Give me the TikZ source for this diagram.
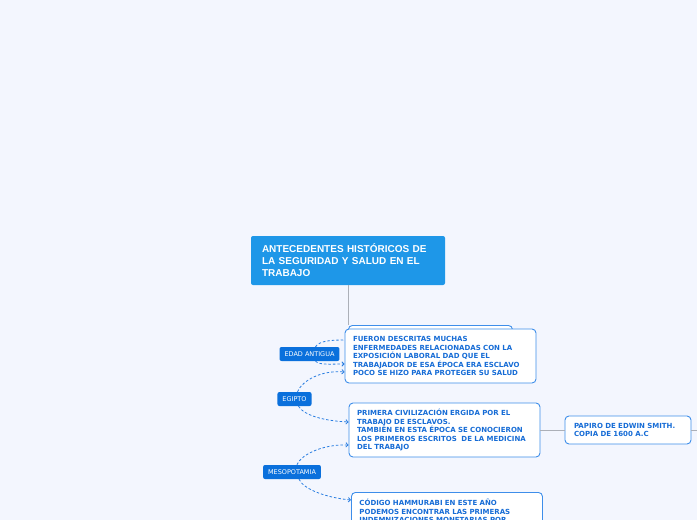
\documentclass[tikz,border=0pt]{standalone}
\usepackage{fontspec}
\usetikzlibrary{arrows.meta,calc}
\newfontfamily\titlefont{Liberation Sans}
\newfontfamily\dvfont{DejaVu Sans}
\definecolor{bgc}{RGB}{243,246,254}
\definecolor{titlec}{RGB}{30,151,232}
\definecolor{labelc}{RGB}{10,112,220}
\definecolor{boxborder}{RGB}{62,142,234}
\definecolor{boxtext}{RGB}{22,108,214}
\definecolor{dashc}{RGB}{40,125,225}
\definecolor{grayline}{RGB}{172,176,184}
\tikzset{
  titlebox/.style={fill=titlec, rounded corners=2pt, text=white,
    font=\titlefont\bfseries\fontsize{10}{12}\selectfont, text width=172pt,
    align=left, inner xsep=11pt, inner ysep=0pt, minimum height=49pt},
  childbox/.style={draw=boxborder, line width=0.9pt, fill=white, rounded corners=4pt,
    text=boxtext, font=\dvfont\bfseries\fontsize{7}{8.5}\selectfont, align=left,
    text width=175pt, inner xsep=8pt, inner ysep=0pt, minimum height=54pt},
  backbox/.style={draw=boxborder, line width=0.9pt, fill=white, rounded corners=4pt,
    minimum width=164pt, minimum height=40pt, inner sep=0pt},
  labelbox/.style={fill=labelc, rounded corners=2pt, text=white,
    font=\dvfont\fontsize{6.5}{7}\selectfont, inner xsep=5pt, inner ysep=0pt,
    minimum height=14pt},
  gline/.style={draw=grayline, line width=1pt},
  rel/.style={draw=dashc, line width=0.8pt, dash pattern=on 2.5pt off 2pt},
  relarrow/.style={rel, -{Straight Barb[length=2.2pt,width=4.5pt]}}
}
\begin{document}
\begin{tikzpicture}[x=1pt,y=-1pt]
\clip (0,0) rectangle (697,520);
\fill[bgc] (0,0) rectangle (697,520);

% nodes
\node[titlebox] (title) at (348,260.5) {ANTECEDENTES HISTÓRICOS DE\\LA SEGURIDAD Y SALUD EN EL\\TRABAJO};
\node[backbox, anchor=north west] (back) at (348,325) {};
\node[childbox] (fueron) at (440.5,356) {FUERON DESCRITAS MUCHAS\\ENFERMEDADES RELACIONADAS CON LA\\EXPOSICIÓN LABORAL DAD QUE EL\\TRABAJADOR DE ESA ÉPOCA ERA ESCLAVO\\POCO SE HIZO PARA PROTEGER SU SALUD};
\node[childbox] (primera) at (444.5,430) {PRIMERA CIVILIZACIÓN ERGIDA POR EL\\TRABAJO DE ESCLAVOS.\\TAMBIÉN EN ESTA ÉPOCA SE CONOCIERON\\LOS PRIMEROS ESCRITOS \ DE LA MEDICINA\\DEL TRABAJO};
\node[childbox, anchor=north west, minimum height=0pt, inner ysep=6.6pt] (codigo) at (351,492) {CÓDIGO HAMMURABI EN ESTE AÑO\\PODEMOS ENCONTRAR LAS PRIMERAS\\INDEMNIZACIONES MONETARIAS POR\\\strut};
\node[childbox, text width=108pt, inner xsep=9pt, minimum height=28pt] (papiro) at (628,430) {PAPIRO DE EDWIN SMITH.\\COPIA DE 1600 A.C};
\coordinate (offright) at (705,430);

\node[labelbox] (edad) at (309.5,354) {EDAD ANTIGUA};
\node[labelbox] (egipto) at (294.5,399) {EGIPTO};
\node[labelbox] (meso) at (292,472) {MESOPOTAMIA};

% gray tree lines
\draw[gline] (title.south) -- (title.south |- back.north);
\draw[gline] (primera.east) -- (papiro.west);
\draw[gline] (papiro.east) -- (offright);

% dashed relationships
\draw[rel] ($(edad.north)+(6,0)$) .. controls ($(edad.north)+(10,-6)$) and ($(fueron.west)+(-14,-16)$) .. ($(fueron.west)+(0,-16)$);
\draw[relarrow] ($(edad.south)+(6,0)$) .. controls ($(edad.south)+(10,4)$) and ($(fueron.west)+(-14,8)$) .. ($(fueron.west)+(0,8)$);
\draw[relarrow] ($(egipto.north)+(3,0)$) .. controls ($(egipto.north)+(8,-12)$) and ($(fueron.west)+(-22,14)$) .. ($(fueron.west)+(0,16)$);
\draw[relarrow] ($(egipto.south)+(4,0)$) .. controls ($(egipto.south)+(10,10)$) and ($(primera.west)+(-22,-9)$) .. ($(primera.west)+(0,-8)$);
\draw[relarrow] ($(meso.north)+(5,0)$) .. controls ($(meso.north)+(10,-12)$) and ($(primera.west)+(-22,14)$) .. ($(primera.west)+(0,15)$);
\draw[relarrow] ($(meso.south)+(7,0)$) .. controls ($(meso.south)+(12,11)$) and ($(codigo.west |- 0,499)+(-22,-1)$) .. (codigo.west |- 0,500);
\end{tikzpicture}
\end{document}
